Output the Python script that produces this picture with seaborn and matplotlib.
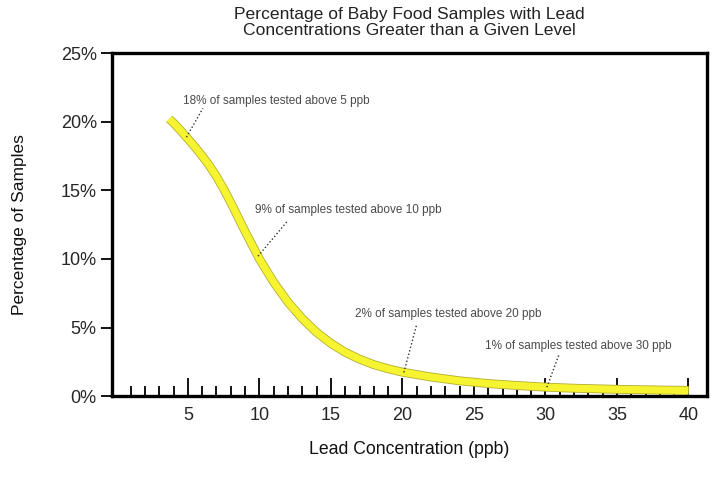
import numpy as np
import pandas as pd
import seaborn as sns
import matplotlib.pyplot as plt
from matplotlib.ticker import MultipleLocator, FixedLocator, FuncFormatter

# values
lead_ppb = [3.7, 4, 4.5, 5, 5.5, 6, 6.5, 7, 7.5, 8, 8.5, 9, 9.5, 10, 11, 12, 13,
            14, 15, 16, 17, 18, 19, 20, 22, 24, 26, 28, 30, 32, 35, 38, 40]
pct_samples = [20.2, 19.9, 19.35, 18.75, 18.15, 17.5, 16.8, 16.0, 15.1, 14.1,
               13.05, 12.0, 11.0, 10.0, 8.3, 6.85, 5.65, 4.65, 3.85, 3.2, 2.7,
               2.3, 2.0, 1.75, 1.4, 1.12, 0.92, 0.78, 0.66, 0.58, 0.5, 0.45, 0.42]

# annotations
ann_at = [4.9, 9.9, 20.1, 30.1]
ann_text = ["18% of samples tested above 5 ppb",
            "9% of samples tested above 10 ppb",
            "2% of samples tested above 20 ppb",
            "1% of samples tested above 30 ppb"]

sns.set_theme(style="white")
plt.rcParams['font.family'] = ['Liberation Sans', 'DejaVu Sans']

df = pd.DataFrame({"x": lead_ppb, "y": pct_samples})

fig, ax = plt.subplots(figsize=(7.23, 4.82), dpi=100)
fig.subplots_adjust(left=0.155, right=0.978, top=0.89, bottom=0.178)

# yellow band with a darker edge
sns.lineplot(data=df, x="x", y="y", ax=ax, color="#b3ae30", linewidth=6.4,
             solid_capstyle="butt", zorder=3)
sns.lineplot(data=df, x="x", y="y", ax=ax, color="#f6f330", linewidth=5.2,
             solid_capstyle="butt", zorder=4)

# text labels and dotted leader lines (offsets from the curve point)
text_off = [(-0.25, 2.65), (-0.2, 3.35), (-3.4, 4.25), (-4.3, 3.0)]
line_off = [(1.15, 2.1), (2.1, 2.6), (0.9, 3.5), (0.85, 2.4)]
for xa, t, to, lo in zip(ann_at, ann_text, text_off, line_off):
    ya = np.interp(xa, lead_ppb, pct_samples)
    ax.text(xa + to[0], ya + to[1], t, fontsize=8.5, color="#4a4a4a",
            ha="left", va="center")
    ax.plot([xa, xa + lo[0]], [ya, ya + lo[1]], linestyle=(0, (1, 1.6)),
            color="#333333", linewidth=1.0, zorder=5)

ax.set_xlim(-0.3, 41.3)
ax.set_ylim(0, 25)

ax.xaxis.set_major_locator(MultipleLocator(5))
ax.xaxis.set_minor_locator(FixedLocator([v for v in range(1, 41) if v % 5]))
ax.xaxis.set_major_formatter(FuncFormatter(lambda v, p: f"{v:.0f}"))
ax.set_xticks(range(5, 41, 5))
ax.yaxis.set_major_locator(MultipleLocator(5))
ax.yaxis.set_major_formatter(FuncFormatter(lambda v, p: f"{v:.0f}%"))

ax.tick_params(axis="x", which="major", direction="in", length=13, width=1.3,
               color="black", labelsize=13, pad=8, bottom=True)
ax.tick_params(axis="x", which="minor", direction="in", length=7, width=1.3,
               color="black", bottom=True)
ax.tick_params(axis="y", which="major", direction="out", length=8, width=1.3,
               color="black", labelsize=13, pad=3, left=True)

for s in ax.spines.values():
    s.set_color("black")
    s.set_linewidth(2.4)

ax.set_xlabel("Lead Concentration (ppb)", fontsize=12.7, labelpad=12, color="#111111")
ax.set_ylabel("Percentage of Samples", fontsize=12.5, labelpad=24, color="#111111")
ax.set_title("Percentage of Baby Food Samples with Lead\nConcentrations Greater than a Given Level",
             fontsize=12.6, pad=13, color="#222222", linespacing=1.1)

plt.savefig("out.png", dpi=100)
